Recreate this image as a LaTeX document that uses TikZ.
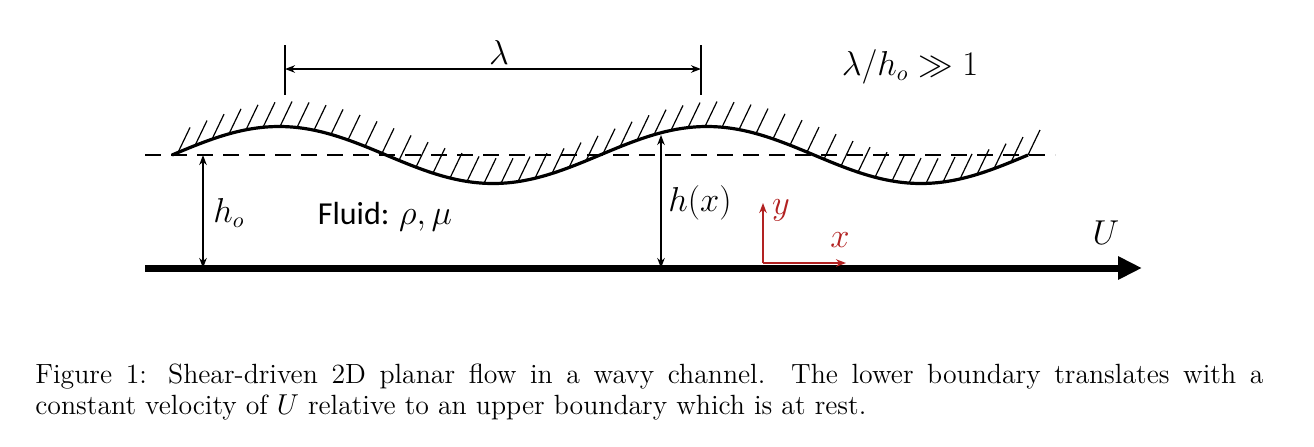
\documentclass[tikz,border=0pt]{standalone}
\usepackage{fontspec}
\newfontfamily\carl{Carlito}
\usetikzlibrary{arrows.meta}
\definecolor{axred}{RGB}{178,34,34}
\begin{document}
\begin{tikzpicture}[x=0.5pt,y=-0.5pt,
  dim/.style={line width=1.1pt,{Stealth[length=5pt]}-{Stealth[length=5pt]}},
  lab/.style={font=\fontsize{16}{18}\selectfont},
  ax/.style={axred,line width=1.1pt,-{Stealth[length=5pt]}}]
\useasboundingbox (0,0) rectangle (1314,446);
% dashed mean line
\coordinate (d1) at (145,155); \coordinate (d2) at (1055,155);
\draw[very thick,dash pattern=on 8pt off 5pt] (d1) -- (d2);
% wavy wall
\draw[line width=1.6pt,domain=172:1028,samples=200,smooth] plot (\x,{155-28.5*sin(0.841121*(\x-172))});
\foreach \i in {0,...,50}{
  \pgfmathsetmacro\xx{178+17*\i}
  \pgfmathsetmacro\yy{155-28.5*sin(0.841121*(\xx-172))}
  \draw[semithick] (\xx,\yy) -- ++(12,-25);
}
% lower wall
\coordinate (w1) at (145,268); \coordinate (w2) at (1142,268);
\draw[line width=3.5pt,-{Triangle[length=12pt,width=11pt]}] (w1) -- (w2);
\node[lab] (U) at (1106,233) {$U$};
% ho
\coordinate (a1) at (203,155); \coordinate (a2) at (203,268);
\draw[dim] (a1) -- (a2);
\node[lab] (ho) at (229,213) {$h_o$};
% h(x)
\coordinate (b1) at (661,135); \coordinate (b2) at (661,268);
\draw[dim] (b1) -- (b2);
\node[lab] (hx) at (700,203) {$h(x)$};
% lambda
\coordinate (t1) at (285,45); \coordinate (t2) at (285,95);
\coordinate (t3) at (701,45); \coordinate (t4) at (701,95);
\draw[line width=1.3pt] (t1) -- (t2); \draw[line width=1.3pt] (t3) -- (t4);
\coordinate (l1) at (285,69); \coordinate (l2) at (701,69);
\draw[dim] (l1) -- (l2);
\node[lab] (lam) at (499,52) {$\lambda$};
\node[lab] (ratio) at (910,67) {$\lambda/h_o \gg 1$};
\node[font=\carl\fontsize{16}{18}\selectfont] (fl) at (385,217) {Fluid: $\rho,\mu$};
% axes
\coordinate (o) at (763,263); \coordinate (oy) at (763,203); \coordinate (ox) at (846,263);
\draw[ax] (o) -- (oy); \draw[ax] (o) -- (ox);
\node[lab,text=axred] (ylab) at (781,210) {$y$};
\node[lab,text=axred] (xlab) at (840,240) {$x$};
% caption
\node[anchor=north west,inner sep=0pt,text width=614pt,align=justify,font=\fontsize{13.9}{15.2}\selectfont] (cap) at (35,364)
{Figure 1: Shear-driven 2D planar flow in a wavy channel. The lower boundary translates with a\linebreak constant velocity of $U$ relative to an upper boundary which is at rest.};
\end{tikzpicture}
\end{document}
